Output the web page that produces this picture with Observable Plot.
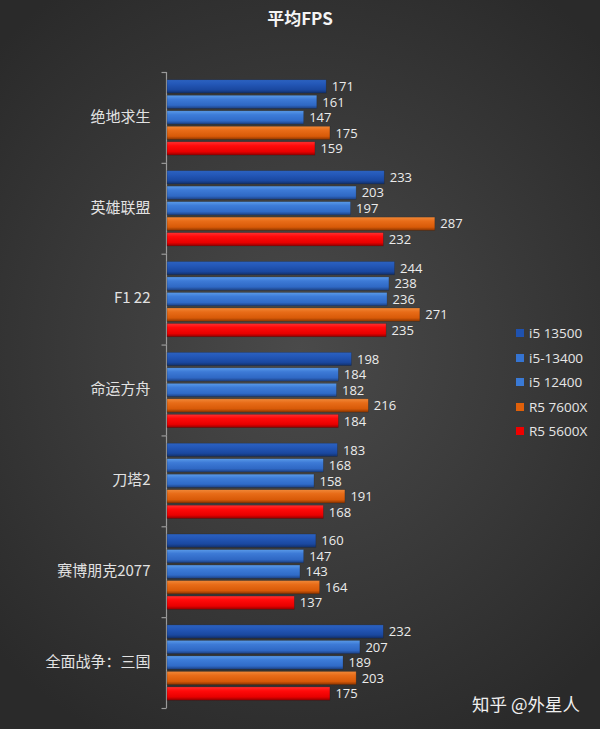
<!DOCTYPE html>
<html><head><meta charset="utf-8">
<script src="https://cdn.jsdelivr.net/npm/d3@7"></script>
<script src="https://cdn.jsdelivr.net/npm/@observablehq/plot@0.6"></script>
<style>
html,body{margin:0;padding:0;}
#wrap{position:relative;width:600px;height:729px;overflow:hidden;
 background:radial-gradient(ellipse 70% 60% at 50% 48%, #4a4a4a 0%, #3c3c3c 45%, #2a2a2a 100%);
 font-family:"Noto Sans CJK SC","Noto Sans",sans-serif;}
#title{position:absolute;top:5px;left:0;width:600px;text-align:center;color:#f4f4f4;font-size:17px;font-weight:bold;}
#legend{position:absolute;left:516px;top:321px;color:#e6e6e6;font-size:13.5px;font-family:"Open Sans","Noto Sans CJK SC",sans-serif;}
#legend div{height:24.5px;display:flex;align-items:center;}
#legend span.sw{display:inline-block;width:8px;height:8px;margin-right:5px;}
#mark{position:absolute;left:472px;top:691px;color:#f0f0f0;font-size:17.5px;}
#chart{position:absolute;left:0;top:0;}
</style></head>
<body>
<div id="wrap">
<svg width="0" height="0" style="position:absolute">
<defs>
<linearGradient id="g0" x1="0" y1="0" x2="0" y2="1"><stop offset="0" stop-color="#2c62c0"/><stop offset="0.3" stop-color="#2458b8"/><stop offset="0.75" stop-color="#1a48a0"/><stop offset="1" stop-color="#12306a"/></linearGradient>
<linearGradient id="g1" x1="0" y1="0" x2="0" y2="1"><stop offset="0" stop-color="#5a9ae8"/><stop offset="0.3" stop-color="#3d7ad6"/><stop offset="0.75" stop-color="#2f68c4"/><stop offset="1" stop-color="#1c3f80"/></linearGradient>
<linearGradient id="g2" x1="0" y1="0" x2="0" y2="1"><stop offset="0" stop-color="#5a9ae8"/><stop offset="0.3" stop-color="#3d7cd8"/><stop offset="0.75" stop-color="#306bc8"/><stop offset="1" stop-color="#1c4082"/></linearGradient>
<linearGradient id="g3" x1="0" y1="0" x2="0" y2="1"><stop offset="0" stop-color="#f08838"/><stop offset="0.3" stop-color="#e86c18"/><stop offset="0.75" stop-color="#d85a08"/><stop offset="1" stop-color="#8a3400"/></linearGradient>
<linearGradient id="g4" x1="0" y1="0" x2="0" y2="1"><stop offset="0" stop-color="#ff3030"/><stop offset="0.3" stop-color="#ff0a0a"/><stop offset="0.75" stop-color="#e80000"/><stop offset="1" stop-color="#900000"/></linearGradient>
</defs></svg>
<div id="title">平均FPS</div>
<div id="chart"></div>
<div id="legend"></div>
<div id="mark">知乎 @外星人</div>
</div>
<script>
const games = ["绝地求生","英雄联盟","F1 22","命运方舟","刀塔2","赛博朋克2077","全面战争：三国"];
const series = ["i5 13500","i5-13400","i5 12400","R5 7600X","R5 5600X"];
const i5_13500 = [171,233,244,198,183,160,232];
const i5_13400 = [161,203,238,184,168,147,207];
const i5_12400 = [147,197,236,182,158,143,189];
const r5_7600x = [175,287,271,216,191,164,203];
const r5_5600x = [159,232,235,184,168,137,175];
const seriesValues = [i5_13500,i5_13400,i5_12400,r5_7600x,r5_5600x];
const fills = ["url(#g0)","url(#g1)","url(#g2)","url(#g3)","url(#g4)"];
const swatch = ["#1f52b0","#3574d2","#3a7ad6","#e0600a","#f00000"];

const data = [];
games.forEach((g,gi)=>series.forEach((s,si)=>data.push({game:g,series:s,value:seriesValues[si][gi],fill:fills[si]})));

const tickSym = {draw(ctx,size){ctx.moveTo(-5,0);ctx.lineTo(0,0);}};

const chart = Plot.plot({
  width:600, height:729,
  marginTop:72, marginBottom:21, marginLeft:166, marginRight:600-447,
  style:{background:"transparent", overflow:"visible"},
  x:{domain:[0,300], axis:null},
  fy:{domain:games, padding:0, round:false, label:null, axis:null},
  y:{domain:series, paddingInner:0.14, paddingOuter:0.5, round:false, axis:null},
  marks:[
    Plot.ruleX(games,{x:0, fy:d=>d, stroke:"#9a9a9a", strokeWidth:1.2}),
    Plot.dot(games,{fy:d=>d, frameAnchor:"top-left", symbol:tickSym, stroke:"#9a9a9a", strokeWidth:1.2, r:3}),
    Plot.dot(games.slice(-1),{fy:d=>d, frameAnchor:"bottom-left", symbol:tickSym, stroke:"#9a9a9a", strokeWidth:1.2, r:3}),
    Plot.text(games,{fy:d=>d, text:d=>d, frameAnchor:"left", dx:-16, dy:-1, textAnchor:"end", fill:"#e2e2e2", fontSize:15, fontFamily:"Noto Sans CJK SC"}),
    Plot.barX(data,{x:"value", y:"series", fy:"game", fill:"fill", stroke:"#1a1a1a", strokeOpacity:0.35, strokeWidth:0.6, insetLeft:1}),
    Plot.text(data,{x:"value", y:"series", fy:"game", text:d=>String(d.value), textAnchor:"start", dx:5, fill:"#ececec", fontSize:13, fontFamily:"Open Sans"})
  ]
});
document.getElementById("chart").appendChild(chart);

const leg = document.getElementById("legend");
series.forEach((s,i)=>{
  const d=document.createElement("div");
  d.innerHTML=`<span class="sw" style="background:${swatch[i]}"></span>${s}`;
  leg.appendChild(d);
});
</script>
</body></html>
